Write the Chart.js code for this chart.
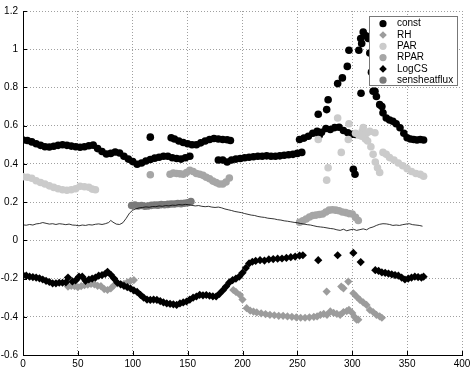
<!DOCTYPE html>
<html>
<head>
<meta charset="utf-8">
<script src="https://cdn.jsdelivr.net/npm/chart.js@4/dist/chart.umd.min.js"></script>
<style>
  body { margin: 0; background: #fff; }
  #box { width: 474px; height: 370px; }
</style>
</head>
<body>
<div id="box"><canvas id="grafico"></canvas></div>
<script>
// Valori: [giorno, valore]
const constPts = [
  [0,.525],[4,.522],[8,.515],[12,.505],[16,.497],[20,.49],[24,.488],[28,.492],[32,.497],[36,.5],
  [40,.497],[44,.493],[48,.49],[52,.487],[56,.49],[60,.495],[64,.498],[68,.48],[72,.465],[76,.452],
  [80,.455],[84,.462],[88,.457],[92,.44],[96,.425],[100,.412],[104,.398],[108,.405],[112,.415],[116,.423],
  [120,.43],[124,.435],[128,.44],[132,.44],[136,.432],[140,.428],[144,.425],[148,.432],[152,.44],
  [116,.54],
  [135,.537],[138,.53],[142,.52],[146,.512],[150,.505],[154,.5],[158,.5],[162,.51],[166,.52],[170,.528],
  [174,.533],[178,.53],[182,.528],[186,.526],[189,.522],
  [178,.42],[182,.42],[186,.41],[190,.42],[194,.425],[198,.428],[202,.432],[206,.435],[210,.437],[214,.44],
  [218,.44],[222,.442],[226,.44],[230,.44],[234,.442],[238,.445],[242,.448],[246,.45],[250,.455],[254,.46],
  [252,.528],[256,.535],[260,.545],[264,.56],[268,.57],[270,.55],[272,.565],[276,.585],[280,.58],[284,.59],
  [288,.592],[292,.575],[296,.563],[300,.555],[303,.554],
  [269,.66],[276.7,.684],[278,.736],[286.7,.82],[291,.85],[295.5,.91],[297,.995],[306,.995],[307.7,1.056],
  [310,1.09],[312.5,1.07],[308.6,1.03],[314.6,1.056],[316,.98],[317.5,.88],[308,.77],[301,.372],[302.5,.346],
  [319,.78],[320.7,.78],[322,.753],[325,.71],[327,.7],[328,.667],
  [331,.64],[334,.63],[337,.623],[340,.61],[343.5,.589],[347,.56],[350,.537],[353,.53],[356,.528],[359,.525],
  [362,.528],[365,.525]
];
const rhPts = [
  [41,-.242],[44,-.238],[47,-.24],[50,-.245],[53,-.24],[56,-.235],[59,-.232],[62,-.228],[65,-.23],[68,-.238],
  [71,-.24],[74,-.255],[77,-.26],[80,-.252],[83,-.235],[86,-.225],[89,-.23],[92,-.228],[95,-.22],[98,-.212],[101,-.208],
  [191.6,-.26],[194,-.27],[197.7,-.286],[200,-.31],[203.8,-.355],[207,-.368],[210,-.373],[213,-.377],[217,-.382],
  [221,-.386],[225,-.39],[229,-.392],[233,-.395],[237,-.395],[241,-.398],[245,-.4],[249,-.403],[253,-.405],
  [257,-.405],[261,-.403],[265,-.4],[268,-.398],[271,-.39],[274,-.385],[277,-.39],[280,-.372],[283,-.38],
  [286,-.385],[289,-.39],[292,-.375],[295,-.37],[297,-.364],[300,-.38],[302,-.4],[304,-.415],[305.5,-.415],
  [276.7,-.268],[290,-.242],[292,-.251],[296.4,-.216],
  [301,-.277],[304,-.295],[307,-.312],[310,-.325],[313,-.338],[316,-.364],[319,-.375],[322,-.39],[325,-.398],[327,-.405]
];
const parPts = [
  [0,.333],[4,.33],[8,.325],[12,.312],[16,.303],[20,.295],[24,.285],[28,.277],[32,.27],[36,.265],
  [40,.262],[44,.265],[48,.27],[52,.283],[56,.28],[60,.278],[63,.268],[66,.265],
  [269,.528],[276.7,.315],[278,.38],[286.7,.64],[290,.46],[296.4,.528],[297,.61],[303,.56],[306,.55],
  [308.6,.545],[309,.57],[310,.59],[313,.56],[316,.57],[320.7,.563],
  [312,.53],[314,.52],[317,.49],[319,.45],[321,.41],[323,.38],[325,.355],
  [328,.46],[331,.45],[334,.433],[338,.42],[342,.405],[346,.39],[350,.375],[354,.36],[358,.35],[362,.345],[365,.335]
];
const rparPts = [
  [116,.343],
  [134,.346],[137,.352],[140,.35],[143,.348],[146,.346],[149,.355],[152,.367],[155,.36],[158,.35],[161,.346],
  [164,.34],[167,.33],[170,.322],[173,.31],[176,.302],[179,.295],[182,.295],[185,.305],[188,.326],
  [252,.095],[255,.102],[258,.112],[261,.122],[264,.13],[267,.132],[270,.135],[273,.138],[276,.148],[279,.158],
  [282,.16],[285,.158],[288,.155],[291,.148],[294,.145],[297,.14],[300,.138],[303,.12],[305.5,.104]
];
const logcsPts = [
  [0,-.182],[3,-.185],[6,-.19],[9,-.192],[12,-.195],[15,-.199],[18,-.205],[21,-.212],[24,-.218],[27,-.225],
  [30,-.225],[33,-.222],[36,-.222],[39,-.22],[41,-.195],[45,-.215],[48,-.21],[51,-.19],[54,-.19],[57,-.212],
  [60,-.205],[63,-.2],[66,-.195],[69,-.185],[72,-.182],[75,-.175],[77,-.165],[80,-.18],[83,-.2],[86,-.222],
  [89,-.23],[92,-.238],[95,-.245],[98,-.252],[101,-.262],[104,-.27],[107,-.285],[110,-.3],[113,-.31],[116,-.312],
  [119,-.31],[122,-.312],[125,-.318],[128,-.325],[131,-.33],[134,-.332],[137,-.335],[140,-.338],[143,-.33],
  [146,-.325],[149,-.32],[152,-.31],[155,-.3],[158,-.294],[161,-.285],[164,-.288],[167,-.286],[170,-.29],
  [173,-.293],[176,-.294],[179,-.28],[182,-.262],[185,-.242],[188,-.22],[191,-.208],[194,-.2],[197,-.19],
  [200,-.17],[203,-.145],[206,-.121],[209,-.112],[212,-.108],[216,-.104],[220,-.106],[224,-.1],[228,-.098],
  [232,-.096],[236,-.095],[240,-.092],[244,-.088],[248,-.085],[252,-.08],[255,-.078],
  [269,-.104],[286.7,-.078],[301,-.066],[307.7,-.114],
  [321,-.156],[324,-.16],[327,-.168],[330,-.17],[333,-.174],[336,-.178],[339,-.182],[342,-.185],[345,-.195],
  [348,-.205],[351,-.2],[354,-.195],[357,-.19],[360,-.192],[363,-.195],[365,-.19]
];
const sensPts = [
  [99,.182],[102,.185],[105,.18],[108,.182],[111,.178],[114,.18],[117,.183],[120,.185],[123,.184],[126,.187],
  [129,.186],[132,.188],[135,.19],[138,.19],[141,.193],[144,.192],[147,.194],[150,.197],[153,.203]
];
// linea sottile senza legenda
const linePts = [
  [0,.081],[3,.079],[6,.083],[9,.08],[12,.086],[15,.088],[18,.093],[21,.089],[24,.085],[27,.087],[30,.083],
  [33,.087],[36,.085],[39,.082],[42,.085],[45,.08],[48,.079],[51,.076],[54,.08],[57,.078],[60,.082],[63,.08],
  [66,.084],[69,.086],[72,.083],[75,.087],[78,.093],[80,.104],[82,.095],[85,.085],[88,.083],[91,.092],[94,.115],
  [97,.142],[100,.158],[103,.165],[106,.17],[109,.172],[112,.175],[115,.173],[118,.177],[121,.176],[124,.18],
  [127,.178],[130,.182],[133,.18],[136,.184],[139,.183],[142,.187],[145,.185],[148,.188],[151,.186],[154,.183],
  [157,.18],[160,.182],[163,.178],[166,.176],[169,.178],[172,.174],[175,.172],[178,.174],[181,.17],[184,.164],
  [187,.16],[190,.156],[193,.151],[196,.148],[199,.145],[202,.14],[205,.136],[208,.132],[211,.13],[214,.125],
  [217,.122],[220,.12],[223,.116],[226,.114],[229,.112],[232,.108],[235,.106],[238,.102],[241,.1],[244,.097],
  [247,.094],[250,.092],[253,.088],[256,.085],[259,.082],[262,.08],[265,.076],[268,.072],[271,.07],[274,.068],
  [277,.065],[280,.062],[283,.06],[286,.055],[289,.052],[292,.058],[295,.05],[298,.055],[301,.058],[304,.052],
  [307,.056],[310,.06],[313,.055],[316,.065],[319,.07],[322,.078],[325,.084],[328,.087],[331,.086],[334,.083],
  [337,.078],[340,.08],[343,.078],[346,.082],[349,.085],[352,.087],[355,.082],[358,.08],[361,.078],[364,.074]
];
const legendNames = ['const', 'RH', 'PAR', 'RPAR', 'LogCS', 'sensheatflux'];
const xTicks = [0, 50, 100, 150, 200, 250, 300, 350, 400];
const yTicks = [-0.6, -0.4, -0.2, 0, 0.2, 0.4, 0.6, 0.8, 1, 1.2];

const FONT = '"Liberation Sans", Arial, Helvetica, sans-serif';
const toXY = pts => pts.map(p => ({ x: p[0], y: p[1] }));

function serie(label, pts, color, style, r, order) {
  return {
    label: label, data: toXY(pts), order: order,
    pointStyle: style, pointRadius: r, pointBorderWidth: 0,
    backgroundColor: color, borderColor: color, showLine: false
  };
}

// legenda disegnata dentro l'area del grafico (in alto a destra)
const legendaPlugin = {
  id: 'legenda',
  afterDatasetsDraw(chart) {
    const ctx = chart.ctx, a = chart.chartArea;
    const w = 88, h = 69;
    const x0 = Math.round(a.right - 5 - w) + 0.5, y0 = Math.round(a.top + 5) + 0.5;
    ctx.save();
    ctx.fillStyle = '#fff';
    ctx.fillRect(x0, y0, w, h);
    ctx.strokeStyle = '#777';
    ctx.lineWidth = 1;
    ctx.strokeRect(x0, y0, w, h);
    ctx.font = '10px ' + FONT;
    ctx.textBaseline = 'middle';
    legendNames.forEach((name, i) => {
      const ds = chart.data.datasets[i];
      const cy = y0 + 7.2 + i * 11.3, cx = x0 + 13.5;
      ctx.fillStyle = ds.backgroundColor;
      ctx.beginPath();
      if (ds.pointStyle === 'rectRot') {
        ctx.moveTo(cx, cy - 3.8); ctx.lineTo(cx + 3.8, cy);
        ctx.lineTo(cx, cy + 3.8); ctx.lineTo(cx - 3.8, cy);
        ctx.closePath();
      } else {
        ctx.arc(cx, cy, 3.6, 0, Math.PI * 2);
      }
      ctx.fill();
      ctx.fillStyle = '#000';
      ctx.fillText(name, x0 + 27.5, cy);
    });
    ctx.restore();
  }
};

// tacche interne sugli assi (stile MATLAB)
const tacchePlugin = {
  id: 'tacche',
  afterDraw(chart) {
    const ctx = chart.ctx, a = chart.chartArea;
    const sx = chart.scales.x, sy = chart.scales.y;
    ctx.save();
    ctx.strokeStyle = '#000';
    ctx.lineWidth = 1;
    ctx.beginPath();
    xTicks.forEach(v => {
      const px = Math.round(sx.getPixelForValue(v)) + 0.5;
      ctx.moveTo(px, a.bottom); ctx.lineTo(px, a.bottom - 4);
    });
    yTicks.forEach(v => {
      const py = Math.round(sy.getPixelForValue(v)) + 0.5;
      ctx.moveTo(a.left, py); ctx.lineTo(a.left + 4, py);
    });
    ctx.stroke();
    ctx.restore();
  }
};

const ctx = document.getElementById('grafico').getContext('2d');

new Chart(ctx, {
  type: 'scatter',
  data: {
    datasets: [
      serie('const', constPts, '#000000', 'circle', 3.8, 6),
      serie('RH', rhPts, '#9c9c9c', 'rectRot', 4.1, 5),
      serie('PAR', parPts, '#cbcbcb', 'circle', 3.8, 4),
      serie('RPAR', rparPts, '#a6a6a6', 'circle', 3.8, 3),
      serie('LogCS', logcsPts, '#000000', 'rectRot', 4.1, 2),
      serie('sensheatflux', sensPts, '#7a7a7a', 'circle', 3.8, 1),
      {
        label: 'line', data: toXY(linePts), order: 0,
        showLine: true, pointRadius: 0, borderColor: '#000', borderWidth: 0.8
      }
    ]
  },
  options: {
    responsive: true,
    maintainAspectRatio: false,
    animation: false,
    events: [],
    layout: { padding: { top: 9, right: 12, left: 0, bottom: 0 } },
    plugins: { legend: { display: false }, tooltip: { enabled: false } },
    scales: {
      x: {
        type: 'linear', min: 0, max: 400,
        afterBuildTicks: s => { s.ticks = xTicks.map(v => ({ value: v })); },
        afterFit: s => { s.height = 15; },
        ticks: { color: '#000', padding: 3, font: { family: FONT, size: 10 }, maxRotation: 0 },
        grid: { color: '#a0a0a0', drawTicks: false, lineWidth: 1 },
        border: { display: true, color: '#000', width: 1, dash: [1, 2] }
      },
      y: {
        type: 'linear', min: -0.6, max: 1.2,
        afterBuildTicks: s => { s.ticks = yTicks.map(v => ({ value: v })); },
        afterFit: s => { s.width = 23; },
        ticks: {
          color: '#000', padding: 5, font: { family: FONT, size: 10 },
          callback: v => String(Number(v.toFixed(1)))
        },
        grid: { color: '#a0a0a0', drawTicks: false, lineWidth: 1 },
        border: { display: true, color: '#000', width: 1, dash: [1, 2] }
      }
    }
  },
  plugins: [legendaPlugin, tacchePlugin]
});
</script>
</body>
</html>
